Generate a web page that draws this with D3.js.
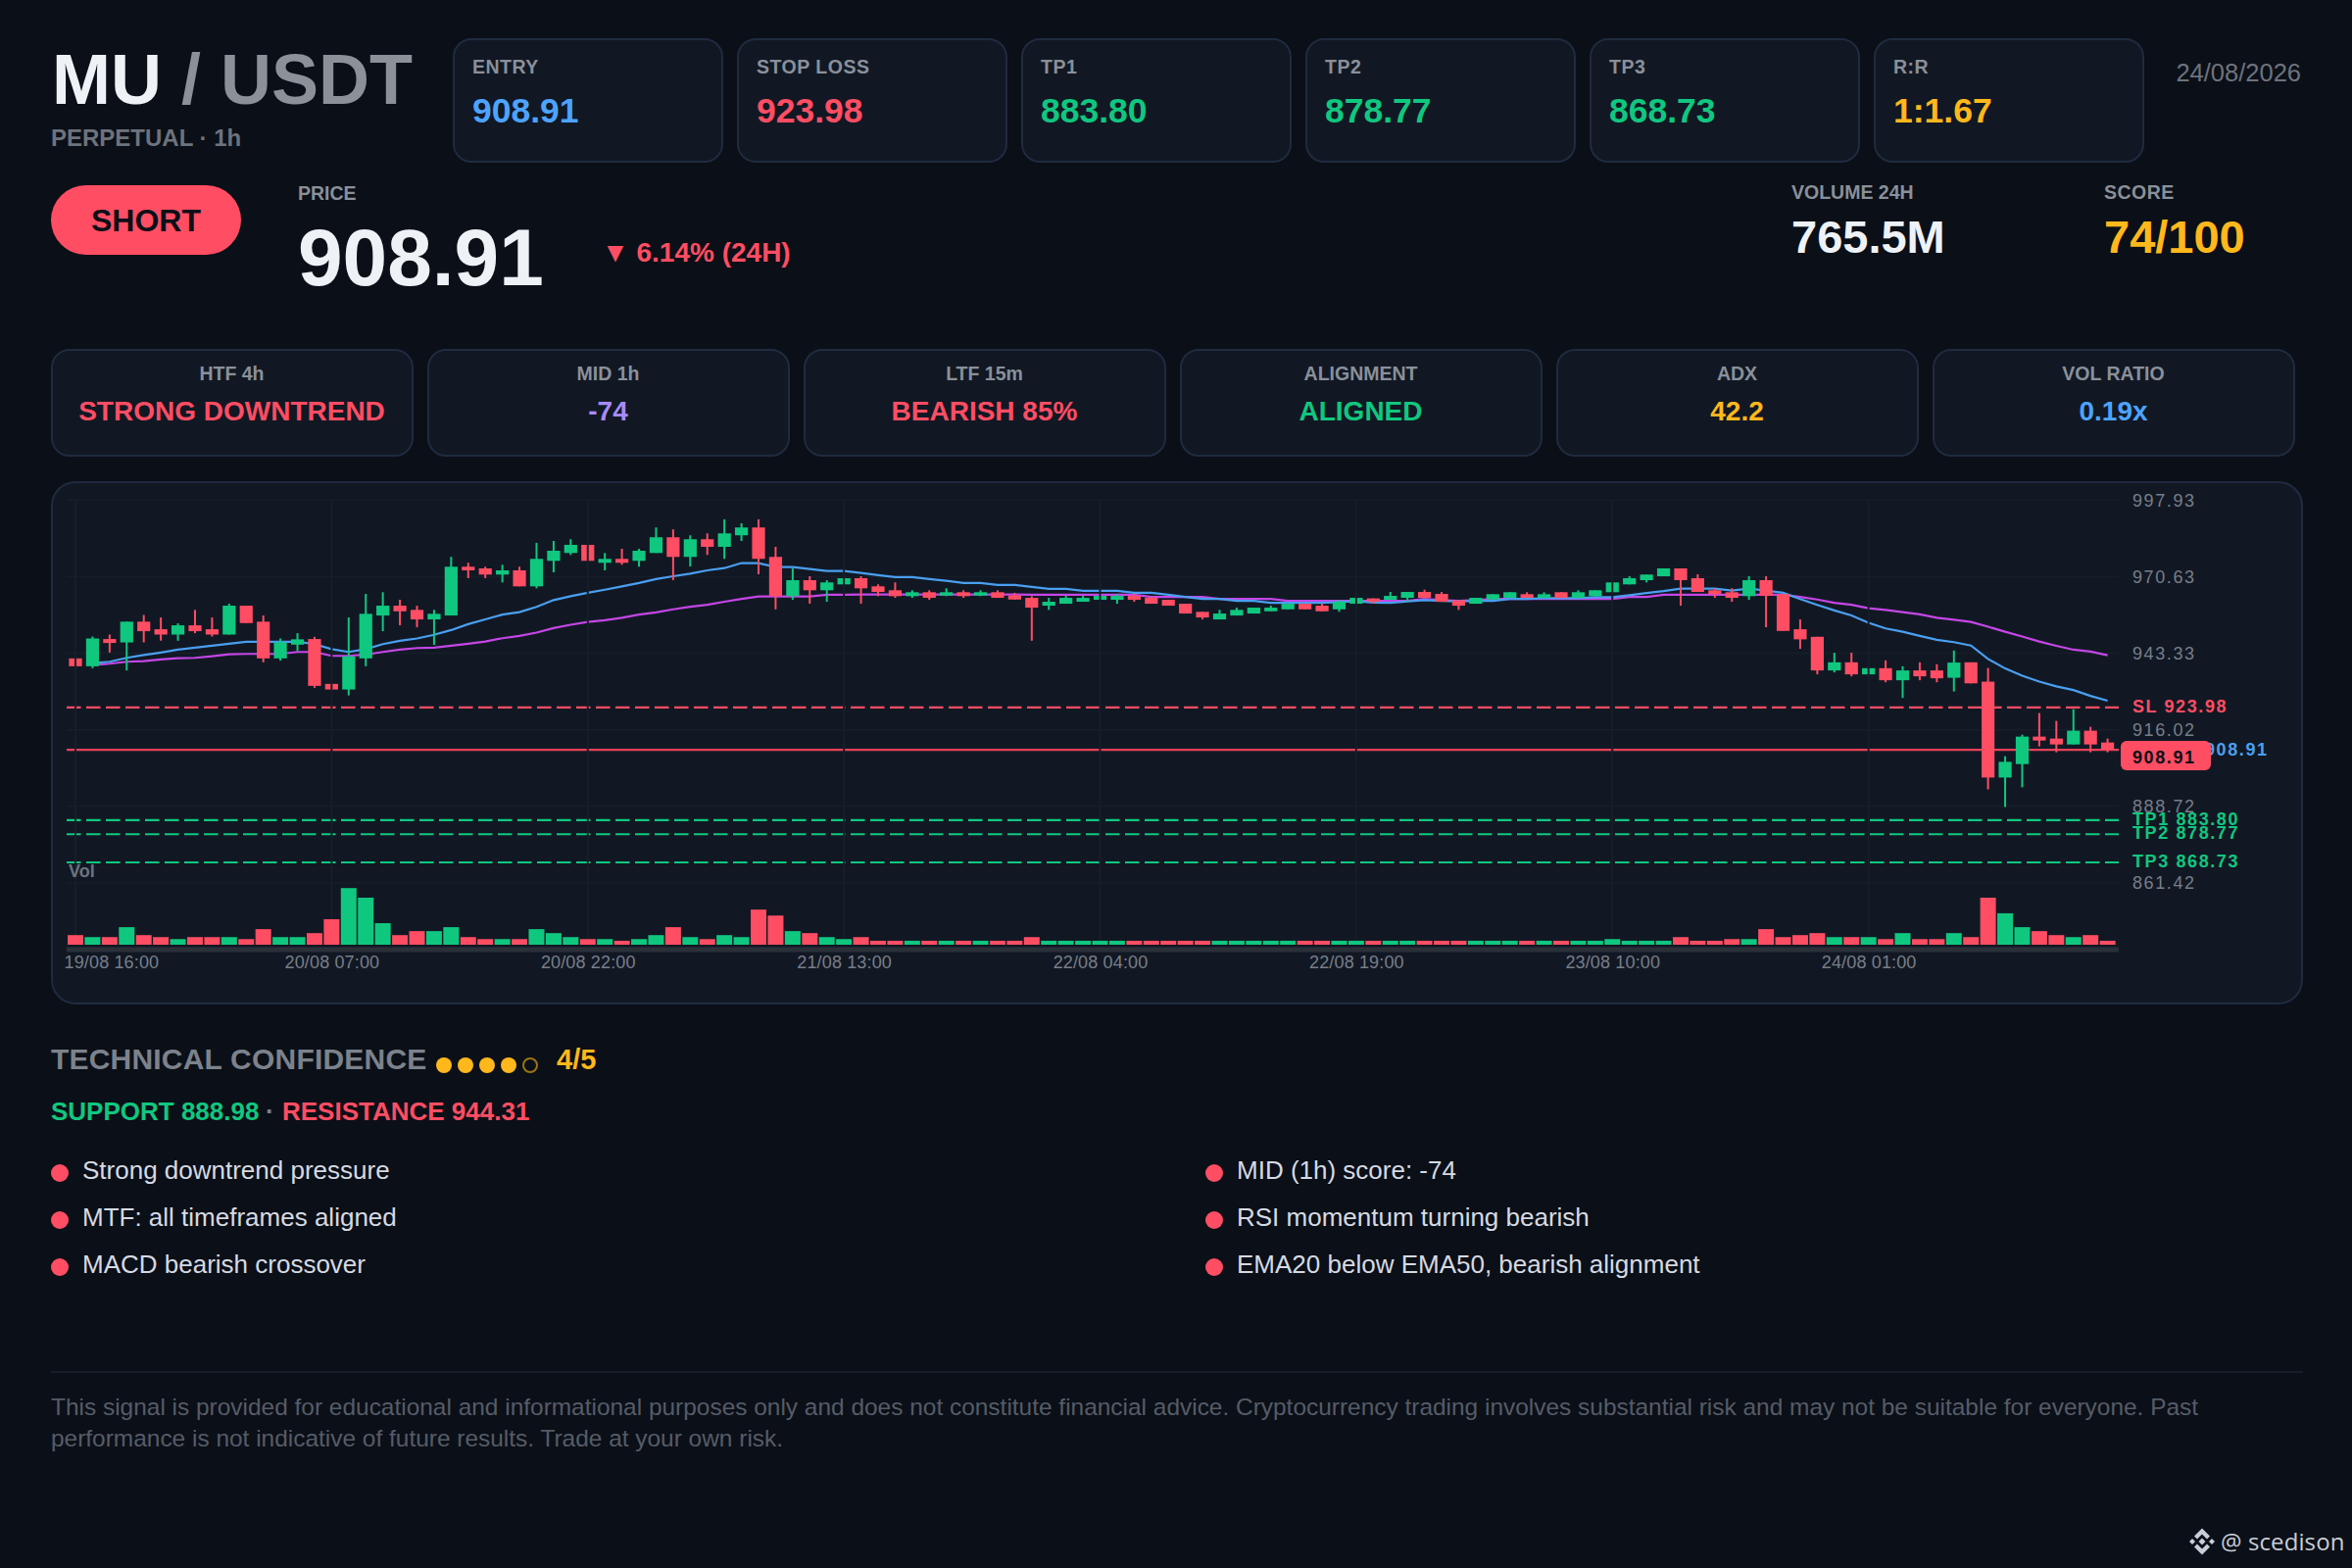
<!DOCTYPE html>
<html>
<head>
<meta charset="utf-8">
<title>MU / USDT</title>
<script src="https://cdn.jsdelivr.net/npm/d3@7"></script>
<style>
  html, body { margin: 0; padding: 0; background: #0b0f17; }
  svg { display: block; }
  text { font-family: "Liberation Sans", Arial, sans-serif; }
</style>
</head>
<body>
<div id="chart"></div>
<script>
// candles, one hourly bar per index
var opens = [941.5,938.7,948.4,947.2,954.6,951.9,950.0,953.3,951.9,950.0,960.3,954.6,941.5,946.4,948.4,932.4,930.4,941.5,956.8,960.3,
  958.8,955.4,956.8,974.2,973.6,971.4,972.9,967.2,976.3,979.1,982.0,975.6,977.0,976.3,979.1,984.7,977.7,984.0,981.3,985.4,
  988.2,977.7,963.7,969.4,965.8,967.9,970.1,967.2,965.8,963.7,965.1,963.9,965.1,963.9,965.1,964.0,963.1,960.3,961.0,961.7,
  962.4,962.4,963.8,963.1,962.4,961.0,958.1,955.4,956.8,957.5,958.3,959.0,961.0,960.3,959.0,961.0,962.9,962.4,963.1,965.2,
  964.5,962.2,961.0,962.5,963.1,964.4,963.1,965.1,963.1,963.7,965.1,967.9,969.4,970.8,973.6,970.1,965.8,965.1,963.7,969.4,
  964.4,951.9,949.2,937.2,940.1,935.8,938.0,933.7,937.2,937.2,934.6,940.1,933.2,899.0,903.8,913.6,912.9,910.8,915.7,911.5];
var highs = [941.5,949.3,950.0,954.6,957.0,956.1,954.0,958.8,956.1,961.0,960.3,956.8,948.6,950.5,949.2,932.4,956.1,964.5,965.1,962.4,
  960.3,958.8,977.7,975.6,974.2,974.9,974.2,982.7,983.4,984.0,982.0,979.1,980.6,980.6,988.2,987.5,985.4,986.1,991.1,989.7,
  991.1,981.3,973.6,970.8,969.4,970.1,970.8,967.9,968.6,965.8,965.8,966.5,965.8,965.8,965.8,964.9,963.7,963.1,963.8,963.8,
  963.8,964.5,964.5,963.7,962.4,961.0,958.1,958.8,959.6,959.6,960.3,961.0,961.0,961.0,962.3,963.1,962.9,965.2,965.2,966.0,
  965.2,962.2,963.1,964.4,965.1,965.1,965.1,965.1,965.8,965.8,968.6,970.8,971.4,973.6,973.6,971.5,966.5,966.5,970.8,970.8,
  964.4,955.4,949.2,943.5,943.5,938.0,940.8,938.7,940.1,939.4,944.3,940.1,938.1,906.6,914.3,922.0,919.2,923.4,917.1,912.9];
var lows = [938.7,938.0,943.6,937.2,947.2,947.8,947.8,950.5,949.3,950.0,954.1,940.1,940.7,944.1,931.0,930.4,928.3,938.7,951.2,953.3,
  952.6,946.3,956.8,970.1,970.1,968.6,967.2,966.5,972.2,978.4,976.3,972.9,974.9,974.2,979.1,969.4,974.3,978.4,977.0,983.4,
  971.5,959.0,962.4,961.0,961.7,967.9,961.0,963.7,963.1,963.1,962.4,963.7,963.1,963.7,963.1,962.5,947.8,958.8,961.0,961.7,
  962.4,961.0,961.7,961.0,960.3,957.5,955.4,955.4,956.8,957.5,958.3,959.0,959.0,958.3,958.1,961.0,961.0,962.4,961.7,963.1,
  961.7,958.8,961.0,962.5,963.1,963.1,963.1,963.1,963.1,963.7,965.1,967.9,968.6,970.8,960.3,965.2,963.1,961.7,962.4,952.6,
  951.3,944.9,935.8,936.5,935.1,935.8,933.0,927.4,933.7,933.0,929.7,932.6,894.8,888.5,895.5,910.1,908.0,910.8,908.0,908.0];
var closes = [938.7,948.6,947.0,954.6,951.2,950.0,953.3,951.2,950.0,960.3,954.1,941.5,947.2,948.3,931.7,930.4,942.2,957.4,960.3,958.3,
  955.4,957.4,974.2,972.9,971.4,972.9,967.2,977.0,979.9,982.0,976.3,977.0,975.6,979.9,984.7,977.7,984.0,981.3,986.1,988.2,
  977.0,963.7,969.4,965.8,968.6,970.1,966.5,965.2,963.7,965.1,963.1,965.1,963.7,965.1,963.1,962.5,959.6,961.7,963.1,963.1,
  963.8,963.8,962.4,961.0,960.3,957.5,956.1,957.5,958.8,959.6,959.6,961.0,959.0,958.3,961.7,963.1,961.7,963.8,965.2,963.1,
  961.7,960.3,963.1,964.4,965.1,963.1,964.4,963.1,965.1,965.8,968.6,970.1,971.4,973.6,969.4,965.2,964.4,963.1,969.4,963.8,
  951.3,948.3,937.2,940.1,935.8,938.0,933.7,937.2,935.1,934.4,940.0,932.6,899.0,904.6,913.6,912.2,910.8,915.7,910.8,908.91];
var volumes = [29,23,23,53,29,23,17,23,23,23,17,47,23,23,35,77,171,142,65,29,
  41,41,53,23,17,17,17,47,35,23,17,17,12,17,29,53,23,17,29,23,
  106,88,41,35,23,17,23,12,12,12,12,12,12,12,12,12,23,12,12,12,
  12,12,12,12,12,12,12,12,12,12,12,12,12,12,12,12,12,12,12,12,
  12,12,12,12,12,12,12,12,12,12,17,12,12,12,23,12,12,17,17,47,
  23,29,35,23,23,23,17,35,17,17,35,23,142,95,53,41,29,23,29,12];
// moving averages start on the second bar
var ema20 = [null,939.8,940.3,941.7,942.7,943.6,944.6,945.3,946.0,946.7,947.4,947.4,947.4,947.4,946.6,944.8,943.8,944.8,946.6,947.8,
  948.6,949.9,951.6,953.7,955.4,957.1,958.0,959.9,962.3,963.7,964.9,966.0,967.2,968.4,969.8,970.8,971.7,972.9,973.7,975.5,
  975.5,974.1,974.1,973.4,972.7,972.7,972.0,971.2,970.5,970.5,969.8,969.2,968.4,968.4,967.7,967.7,967.0,966.3,966.3,965.6,
  965.6,965.6,964.9,964.9,964.2,963.4,962.7,962.7,962.0,962.0,961.3,961.3,961.3,961.3,961.6,961.9,961.4,961.3,961.8,962.3,
  962.0,961.8,962.0,962.0,962.7,962.7,963.0,963.0,963.0,963.3,963.3,964.0,964.8,965.5,966.4,966.4,966.4,965.7,966.4,965.7,
  964.9,962.7,960.6,958.6,956.8,954.2,952.2,951.0,949.5,948.1,947.3,946.1,941.3,937.9,935.3,933.2,931.5,930.2,928.1,926.4];
var ema50 = [null,939.1,939.6,940.3,940.5,941.1,941.6,941.7,942.3,943.0,943.1,943.1,943.1,943.8,943.8,942.4,942.4,942.9,943.8,944.6,
  945.2,945.3,946.0,946.7,947.5,948.7,949.5,950.7,952.3,953.5,954.5,955.1,956.0,957.1,957.9,959.0,959.9,960.6,961.7,962.7,
  963.6,963.6,963.6,963.6,964.2,964.2,964.3,964.3,964.3,964.3,964.3,964.3,964.3,964.3,964.3,964.3,964.2,964.2,964.2,964.2,
  964.2,964.2,964.2,963.4,963.4,963.4,963.4,962.7,962.7,962.7,962.7,962.0,962.0,962.0,962.0,962.0,962.0,962.0,962.0,962.7,
  962.3,962.0,962.3,962.7,962.7,962.7,962.7,962.7,962.7,962.7,962.7,963.4,963.4,964.2,964.2,964.2,964.2,964.2,964.2,964.2,
  964.2,963.4,962.5,961.3,960.6,959.4,958.8,958.0,957.2,956.0,955.3,954.5,952.8,951.0,949.3,947.5,946.0,944.6,943.9,942.6];

var priceTicks = [997.93, 970.63, 943.33, 916.02, 888.72, 861.42];
var timeTickIdx = [0, 15, 30, 45, 60, 75, 90, 105];
var timeLabels = ["19/08 16:00", "20/08 07:00", "20/08 22:00", "21/08 13:00", "22/08 04:00", "22/08 19:00", "23/08 10:00", "24/08 01:00"];

var entry = 908.91;
var levelNames = ["SL", "TP1", "TP2", "TP3"];
var levelValues = [923.98, 883.80, 878.77, 868.73];

var kpiLabels = ["ENTRY", "STOP LOSS", "TP1", "TP2", "TP3", "R:R"];
var kpiValues = ["908.91", "923.98", "883.80", "878.77", "868.73", "1:1.67"];
var kpiColors = ["#4da3ff", "#ff4d63", "#10c77f", "#10c77f", "#10c77f", "#ffb81c"];

var trendLabels = ["HTF 4h", "MID 1h", "LTF 15m", "ALIGNMENT", "ADX", "VOL RATIO"];
var trendValues = ["STRONG DOWNTREND", "-74", "BEARISH 85%", "ALIGNED", "42.2", "0.19x"];
var trendColors = ["#ff4d63", "#a78bfa", "#ff4d63", "#10c77f", "#ffb81c", "#4da3ff"];

var notesLeft = ["Strong downtrend pressure", "MTF: all timeframes aligned", "MACD bearish crossover"];
var notesRight = ["MID (1h) score: -74", "RSI momentum turning bearish", "EMA20 below EMA50, bearish alignment"];

var red = "#ff4d63", green = "#10c77f", amber = "#ffb81c", gray = "#7c828c";
var cardFill = "#111824", cardStroke = "#1f2b3f";

var svg = d3.select("#chart").append("svg")
    .attr("width", 2400)
    .attr("height", 1600);

svg.append("rect").attr("width", 2400).attr("height", 1600).attr("fill", "#0b0f17");

function label(g, x, y, str, size, color, weight, anchor, spacing) {
    return g.append("text")
        .attr("x", x)
        .attr("y", y)
        .attr("font-size", size)
        .attr("fill", color)
        .attr("font-weight", weight || "normal")
        .attr("text-anchor", anchor || "start")
        .attr("letter-spacing", spacing || 0)
        .text(str);
}

function card(x, y, w, h, r) {
    svg.append("rect")
        .attr("x", x).attr("y", y).attr("width", w).attr("height", h).attr("rx", r)
        .attr("fill", cardFill).attr("stroke", cardStroke).attr("stroke-width", 2);
}

// header
var title = label(svg, 53, 106, "MU", 72, "#eef2f7", "bold");
title.append("tspan").attr("fill", "#8b9099").text(" / USDT");
label(svg, 52, 149, "PERPETUAL · 1h", 24, "#6d737d", "bold");

kpiLabels.forEach(function(d, i) {
    var x = 463 + i * 290;
    card(x, 40, 274, 125, 18);
    label(svg, x + 19, 75, d, 19.5, "#8a9099", "bold", "start", 0.5);
    label(svg, x + 19, 125, kpiValues[i], 35.5, kpiColors[i], "bold");
});
label(svg, 2348, 83, "24/08/2026", 25.5, "#6d737d", "normal", "end");

svg.append("rect")
    .attr("x", 52).attr("y", 189).attr("width", 194).attr("height", 71).attr("rx", 35.5)
    .attr("fill", red);
label(svg, 149, 236, "SHORT", 32, "#0b0f17", "bold", "middle");

label(svg, 304, 204, "PRICE", 19.5, "#8a9099", "bold");
label(svg, 304, 291, "908.91", 82, "#eef2f7", "bold");
label(svg, 614, 267, "▼ 6.14% (24H)", 28, red, "bold");

label(svg, 1828, 203, "VOLUME 24H", 19.5, "#8a9099", "bold");
label(svg, 1828, 258, "765.5M", 47, "#eef2f7", "bold");
label(svg, 2147, 203, "SCORE", 19.5, "#8a9099", "bold", "start", 0.5);
label(svg, 2147, 258, "74/100", 47, amber, "bold");

trendLabels.forEach(function(d, i) {
    var x = 53 + i * 384;
    card(x, 357, 368, 108, 18);
    label(svg, x + 183.5, 388, d, 19.5, "#8a9099", "bold", "middle");
    label(svg, x + 183.5, 429, trendValues[i], 28, trendColors[i], "bold", "middle");
});

// chart panel
card(53, 492, 2296, 532, 24);

var plotLeft = 68, plotRight = 2162, volBase = 964;

var x = d3.scaleLinear().domain([0, 119]).range([77, 2150.6]);
var y = d3.scaleLinear().domain([861.42, 997.93]).range([900.9, 510.4]);
var v = d3.scaleLinear().domain([0, 171]).range([volBase, volBase - 57.8]);

var gridColor = "#171e2a";

svg.append("g").selectAll("line")
    .data(priceTicks)
    .enter().append("line")
    .attr("x1", plotLeft).attr("x2", plotRight)
    .attr("y1", function(d) { return y(d); })
    .attr("y2", function(d) { return y(d); })
    .attr("stroke", gridColor).attr("stroke-width", 1.5);

// stop / target levels
svg.append("g").selectAll("line")
    .data(levelValues)
    .enter().append("line")
    .attr("x1", plotLeft).attr("x2", plotRight)
    .attr("y1", function(d) { return y(d); })
    .attr("y2", function(d) { return y(d); })
    .attr("stroke", function(d, i) { return i == 0 ? red : green; })
    .attr("stroke-width", 2.2)
    .attr("stroke-dasharray", "14.5 5.5");

svg.append("line")
    .attr("x1", plotLeft).attr("x2", plotRight)
    .attr("y1", y(entry)).attr("y2", y(entry))
    .attr("stroke", "#ea4159").attr("stroke-width", 2.2);

// moving averages
var line = d3.line()
    .defined(function(d) { return d != null; })
    .x(function(d, i) { return x(i); })
    .y(function(d) { return y(d); });

svg.append("path").datum(ema50)
    .attr("d", line).attr("fill", "none").attr("stroke", "#c546e6").attr("stroke-width", 2.2);
svg.append("path").datum(ema20)
    .attr("d", line).attr("fill", "none").attr("stroke", "#4a9ff0").attr("stroke-width", 2.2);

// candles
var candle = svg.append("g").selectAll("g")
    .data(opens)
    .enter().append("g")
    .attr("fill", function(d, i) { return closes[i] < d ? red : green; });

candle.append("rect")
    .attr("x", function(d, i) { return x(i) - 1; })
    .attr("width", 2)
    .attr("y", function(d, i) { return y(highs[i]); })
    .attr("height", function(d, i) { return y(lows[i]) - y(highs[i]); });

candle.append("rect")
    .attr("x", function(d, i) { return x(i) - 6.6; })
    .attr("width", 13.2)
    .attr("y", function(d, i) { return y(Math.max(d, closes[i])); })
    .attr("height", function(d, i) { return Math.max(1.5, Math.abs(y(d) - y(closes[i]))); });

// vertical grid runs over the candles
svg.append("g").selectAll("line")
    .data(timeTickIdx)
    .enter().append("line")
    .attr("x1", function(d) { return x(d); })
    .attr("x2", function(d) { return x(d); })
    .attr("y1", 510).attr("y2", volBase)
    .attr("stroke", gridColor).attr("stroke-width", 2);

// volume
svg.append("g").selectAll("rect")
    .data(volumes)
    .enter().append("rect")
    .attr("x", function(d, i) { return x(i) - 8; })
    .attr("width", 16)
    .attr("y", function(d) { return v(d); })
    .attr("height", function(d) { return volBase - v(d); })
    .attr("fill", function(d, i) { return closes[i] < opens[i] ? red : green; });

label(svg, 70, 895, "Vol", 18, "#6d737d", "bold");

svg.append("rect")
    .attr("x", plotLeft).attr("y", 966.5).attr("width", plotRight - plotLeft).attr("height", 5)
    .attr("fill", "#2a3038");

// axes
var xAxis = svg.append("g")
    .attr("transform", "translate(0,971)")
    .call(d3.axisBottom(x).tickValues(timeTickIdx).tickSize(0).tickPadding(4)
        .tickFormat(function(d, i) { return timeLabels[i]; }));
xAxis.select(".domain").remove();
xAxis.selectAll("text")
    .attr("font-size", 18)
    .attr("font-family", "Liberation Sans")
    .attr("letter-spacing", 0.15)
    .attr("fill", "#787e88");
xAxis.select(".tick text").attr("text-anchor", "start").attr("x", -12);

var yAxis = svg.append("g")
    .attr("transform", "translate(2176,0)")
    .call(d3.axisRight(y).tickValues(priceTicks).tickSize(0).tickPadding(0)
        .tickFormat(d3.format(".2f")));
yAxis.select(".domain").remove();
yAxis.selectAll("text")
    .attr("font-size", 18)
    .attr("font-family", "Liberation Sans")
    .attr("letter-spacing", 1.6)
    .attr("fill", "#787e88");

levelNames.forEach(function(d, i) {
    label(svg, 2176, y(levelValues[i]) + 5, d + " " + levelValues[i].toFixed(2), 18, i == 0 ? red : green, "bold", "start", 1.6);
});

// last price, the blue one sits under the badge
label(svg, 2250, y(entry) + 6, entry.toFixed(2), 18, "#4a9ff0", "bold", "start", 1.6);
svg.append("rect")
    .attr("x", 2164).attr("y", 756).attr("width", 92).attr("height", 30).attr("rx", 6)
    .attr("fill", red);
label(svg, 2176, 779, entry.toFixed(2), 18, "#0b0f17", "bold", "start", 1.6);

// confidence block
label(svg, 52, 1091, "TECHNICAL CONFIDENCE", 30, gray, "bold", "start", 0.2);
svg.append("g").selectAll("circle")
    .data([1, 1, 1, 1, 0])
    .enter().append("circle")
    .attr("cx", function(d, i) { return 453 + i * 22; })
    .attr("cy", 1087)
    .attr("r", function(d) { return d ? 8 : 7; })
    .attr("fill", function(d) { return d ? amber : "none"; })
    .attr("stroke", function(d) { return d ? "none" : "#9a7414"; })
    .attr("stroke-width", 2);
label(svg, 568, 1091, "4/5", 29, amber, "bold");

label(svg, 52, 1143, "SUPPORT 888.98", 26, green, "bold");
label(svg, 271, 1143, "·", 26, gray, "bold");
label(svg, 288, 1143, "RESISTANCE 944.31", 26, red, "bold");

function notes(list, dotX, textX) {
    list.forEach(function(d, i) {
        var cy = 1197 + i * 48;
        svg.append("circle").attr("cx", dotX).attr("cy", cy).attr("r", 9).attr("fill", red);
        label(svg, textX, cy + 6, d, 26, "#d5dae2");
    });
}
notes(notesLeft, 61, 84);
notes(notesRight, 1239, 1262);

svg.append("line")
    .attr("x1", 52).attr("x2", 2350).attr("y1", 1400).attr("y2", 1400)
    .attr("stroke", "#171d28").attr("stroke-width", 2);

label(svg, 52, 1444, "This signal is provided for educational and informational purposes only and does not constitute financial advice. Cryptocurrency trading involves substantial risk and may not be suitable for everyone. Past", 24.45, "#555c67");
label(svg, 52, 1476, "performance is not indicative of future results. Trade at your own risk.", 24.45, "#555c67");

// watermark
var mark = svg.append("g").attr("transform", "translate(2247,1573)").attr("fill", "#c8ced8");
mark.append("path").attr("d", "M0,-13.5 L8,-5.5 L5,-2.5 L0,-7.5 L-5,-2.5 L-8,-5.5 Z");
mark.append("path").attr("d", "M0,13.5 L8,5.5 L5,2.5 L0,7.5 L-5,2.5 L-8,5.5 Z");
mark.append("path").attr("d", "M0,-3.5 L3.5,0 L0,3.5 L-3.5,0 Z");
mark.append("path").attr("d", "M-10,-3 L-13,0 L-10,3 L-7,0 Z");
mark.append("path").attr("d", "M10,-3 L13,0 L10,3 L7,0 Z");
label(svg, 2266, 1582, "@ scedison", 24, "#c8ced8", "normal", "start", 0.1)
    .style("font-family", "'Open Sans'");
</script>
</body>
</html>
